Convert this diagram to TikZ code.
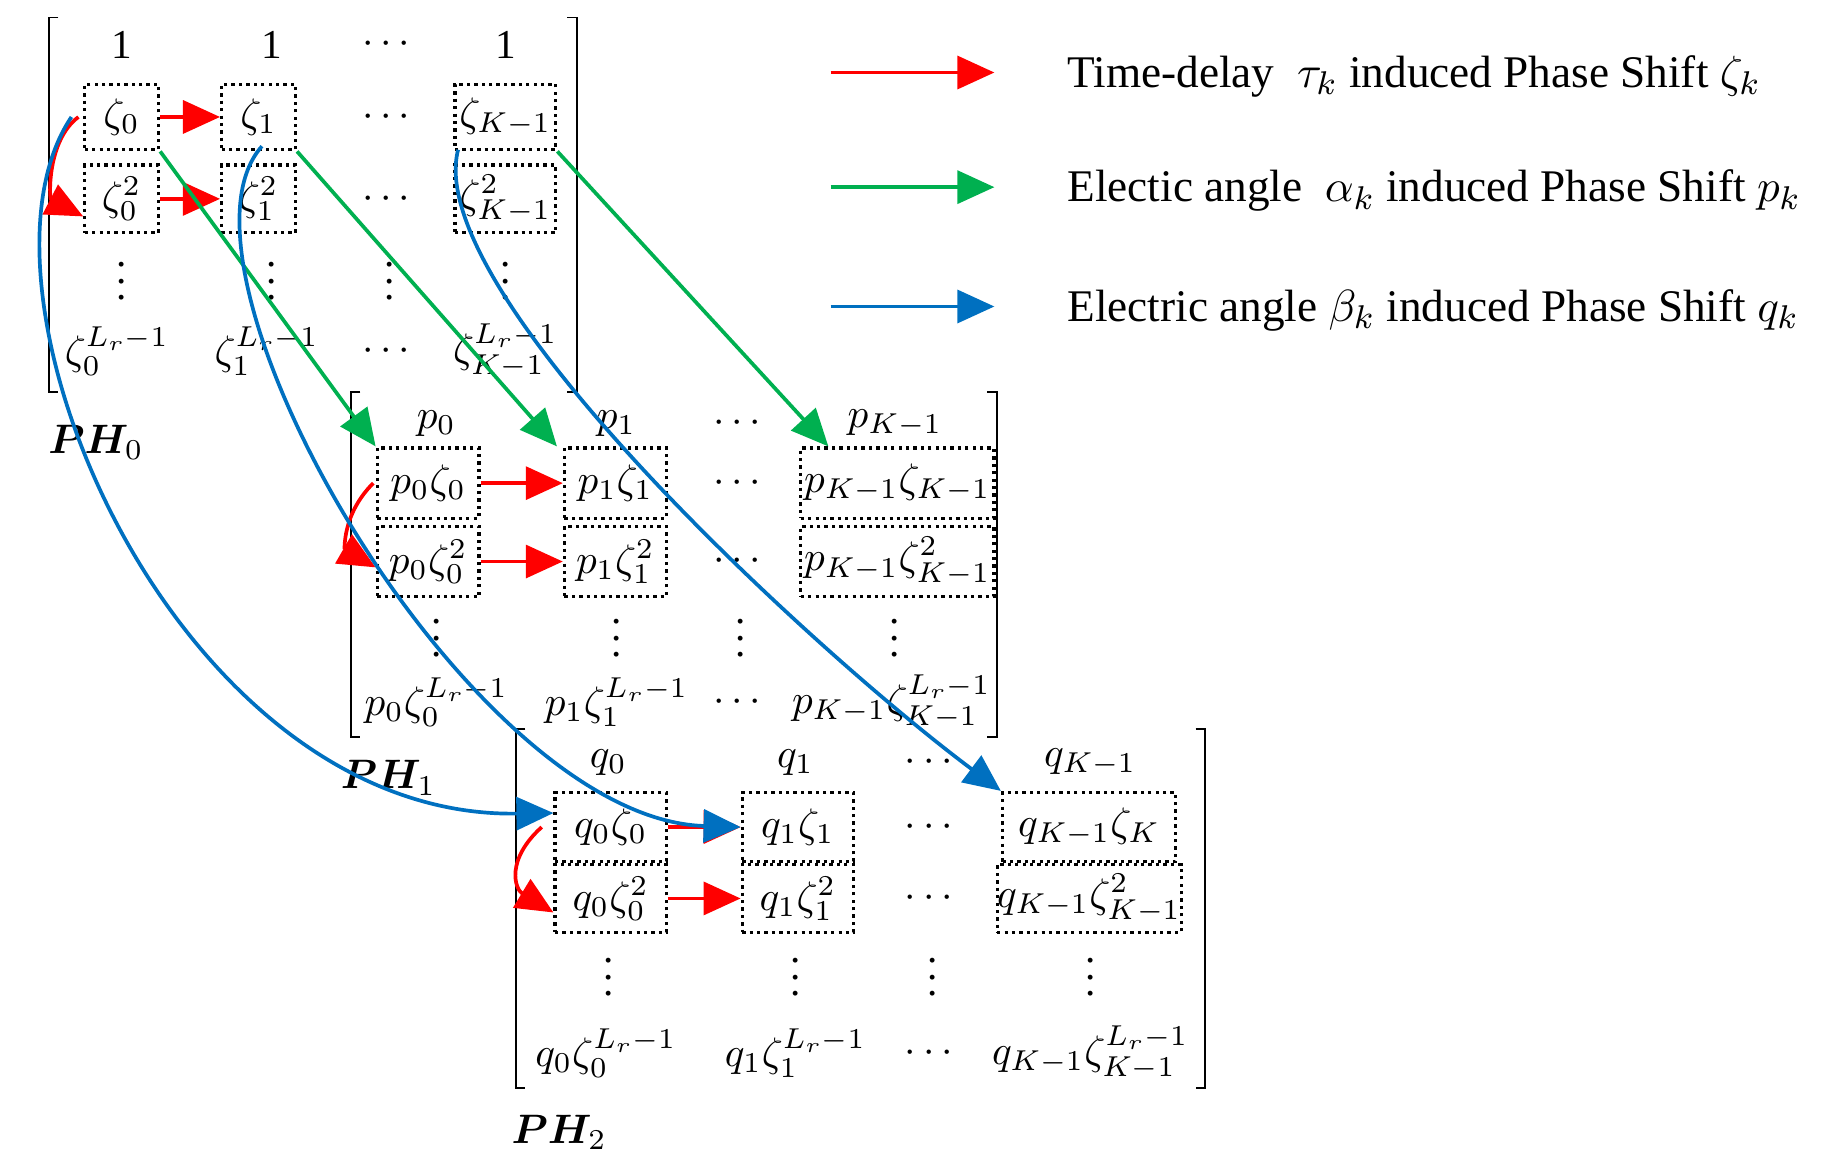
\documentclass[tikz,border=0pt]{standalone}
\usepackage{amsmath,bm}
\usepackage{fontspec}
\setmainfont{Liberation Serif}
\usetikzlibrary{arrows.meta}
\definecolor{cred}{RGB}{255,0,0}
\definecolor{cgreen}{RGB}{0,176,80}
\definecolor{cblue}{RGB}{0,112,192}
\begin{document}
\begin{tikzpicture}[x=0.01cm,y=-0.01cm,font=\fontsize{10}{12}\selectfont,
  box/.style={draw,densely dotted,thick,inner sep=0pt},
  arr/.style={line width=0.9pt,-{Triangle[length=9pt,width=8pt]}},
  rarr/.style={arr,cred},garr/.style={arr,cgreen},barr/.style={arr,cblue},
  brk/.style={thin}]
\useasboundingbox (0,0) rectangle (1560,998);
% PH0
\draw[brk] (50,15) -- (42,15) -- (42,335) -- (50,335);
\draw[brk] (485,15) -- (493,15) -- (493,335) -- (485,335);
\node at (104,38) {1}; \node at (232,38) {1}; \node at (333,38) {$\cdots$}; \node at (432,38) {1};
\node[box,minimum width=0.63cm,minimum height=0.56cm] (a0) at (104,100) {$\zeta_0$};
\node[box,minimum width=0.63cm,minimum height=0.56cm] (a1) at (221,100) {$\zeta_1$};
\node at (333,100) {$\cdots$};
\node[box,minimum width=0.86cm,minimum height=0.56cm] (aK) at (432,100) {$\zeta_{K-1}$};
\node[box,minimum width=0.63cm,minimum height=0.58cm] (b0) at (104,170) {$\zeta_0^2$};
\node[box,minimum width=0.63cm,minimum height=0.58cm] (b1) at (221,170) {$\zeta_1^2$};
\node at (333,170) {$\cdots$};
\node[box,minimum width=0.86cm,minimum height=0.58cm] (bK) at (432,170) {$\zeta_{K-1}^2$};
\node at (104,230) {$\vdots$}; \node at (232,230) {$\vdots$}; \node at (333,230) {$\vdots$}; \node at (432,230) {$\vdots$};
\node at (100,300) {$\zeta_0^{L_r-1}$}; \node at (228,300) {$\zeta_1^{L_r-1}$};
\node at (333,300) {$\cdots$}; \node at (432,300) {$\zeta_{K-1}^{L_r-1}$};
\node (ph0) at (82,378) {$\bm{PH}_0$};
% PH1
\draw[brk] (308,335) -- (300,335) -- (300,630) -- (308,630);
\draw[brk] (844,335) -- (852,335) -- (852,630) -- (844,630);
\node at (373,362) {$p_0$}; \node at (527,362) {$p_1$}; \node at (633,362) {$\cdots$}; \node at (765,362) {$p_{K-1}$};
\node[box,minimum width=0.87cm,minimum height=0.6cm] (c0) at (366,413) {$p_0\zeta_0$};
\node[box,minimum width=0.87cm,minimum height=0.6cm] (c1) at (526,413) {$p_1\zeta_1$};
\node at (633,413) {$\cdots$};
\node[box,minimum width=1.65cm,minimum height=0.6cm] (cK) at (767,413) {$p_{K-1}\zeta_{K-1}$};
\node[box,minimum width=0.87cm,minimum height=0.6cm] (d0) at (366,480) {$p_0\zeta_0^2$};
\node[box,minimum width=0.87cm,minimum height=0.6cm] (d1) at (526,480) {$p_1\zeta_1^2$};
\node at (633,480) {$\cdots$};
\node[box,minimum width=1.65cm,minimum height=0.6cm] (dK) at (767,480) {$p_{K-1}\zeta_{K-1}^2$};
\node at (373,535) {$\vdots$}; \node at (527,535) {$\vdots$}; \node at (633,535) {$\vdots$}; \node at (765,535) {$\vdots$};
\node at (373,600) {$p_0\zeta_0^{L_r-1}$}; \node at (527,600) {$p_1\zeta_1^{L_r-1}$};
\node at (633,600) {$\cdots$}; \node at (762,600) {$p_{K-1}\zeta_{K-1}^{L_r-1}$};
\node (ph1) at (332,665) {$\bm{PH}_1$};
% PH2
\draw[brk] (449,623) -- (441,623) -- (441,930) -- (449,930);
\draw[brk] (1022,623) -- (1030,623) -- (1030,930) -- (1022,930);
\node at (520,652) {$q_0$}; \node at (680,652) {$q_1$}; \node at (797,652) {$\cdots$}; \node at (932,652) {$q_{K-1}$};
\node[box,minimum width=0.95cm,minimum height=0.59cm] (e0) at (522,707) {$q_0\zeta_0$};
\node[box,minimum width=0.95cm,minimum height=0.59cm] (e1) at (682,707) {$q_1\zeta_1$};
\node at (797,707) {$\cdots$};
\node[box,minimum width=1.48cm,minimum height=0.59cm] (eK) at (931,707) {$q_{K-1}\zeta_K$};
\node[box,minimum width=0.95cm,minimum height=0.58cm] (f0) at (522,768) {$q_0\zeta_0^2$};
\node[box,minimum width=0.95cm,minimum height=0.58cm] (f1) at (682,768) {$q_1\zeta_1^2$};
\node at (797,768) {$\cdots$};
\node[box,minimum width=1.48cm,minimum height=0.58cm] (fK) at (931,768) {$q_{K-1}\zeta_{K-1}^2$};
\node at (520,825) {$\vdots$}; \node at (680,825) {$\vdots$}; \node at (797,825) {$\vdots$}; \node at (932,825) {$\vdots$};
\node at (518,900) {$q_0\zeta_0^{L_r-1}$}; \node at (680,900) {$q_1\zeta_1^{L_r-1}$};
\node at (797,900) {$\cdots$}; \node at (932,900) {$q_{K-1}\zeta_{K-1}^{L_r-1}$};
\node (ph2) at (478,968) {$\bm{PH}_2$};
% red arrows
\draw[rarr] (a0.east) -- (a1.west);
\draw[rarr] (b0.east) -- (b1.west);
\draw[rarr] (c0.east) -- (c1.west);
\draw[rarr] (d0.east) -- (d1.west);
\draw[rarr] (e0.east) -- (e1.west);
\draw[rarr] (f0.east) -- (f1.west);
\draw[rarr] ([xshift=-0.04cm]a0.west) .. controls (40,120) and (42,170) .. ([yshift=-0.15cm]b0.west);
\draw[rarr] ([xshift=-0.02cm]c0.west) .. controls (292,440) and (295,470) .. ([yshift=-0.05cm]d0.west);
\draw[rarr] ([xshift=-0.1cm]e0.west) .. controls (432,735) and (440,760) .. ([yshift=-0.12cm]f0.west);
% green arrows
\draw[garr] (a0.south east) -- (c0.north west);
\draw[garr] (a1.south east) -- ([xshift=-0.05cm]c1.north west);
\draw[garr] (aK.south east) -- ([xshift=0.25cm]cK.north west);
% blue arrows
\draw[barr] ([xshift=-0.1cm]a0.west) .. controls (-40,250) and (150,700) .. ([yshift=0.12cm]e0.west);
\draw[barr] ([xshift=-0.3cm,yshift=-0.25cm]a1.east) .. controls (130,230) and (400,700) .. (e1.west);
\draw[barr] ([xshift=0.04cm,yshift=-0.28cm]aK.west) .. controls (360,250) and (700,560) .. (eK.north west);
% legend
\coordinate (l1) at (710,62); \coordinate (l1e) at (850,62);
\coordinate (l2) at (710,160); \coordinate (l2e) at (850,160);
\coordinate (l3) at (710,262); \coordinate (l3e) at (850,262);
\draw[rarr] (l1) -- (l1e); \draw[garr] (l2) -- (l2e); \draw[barr] (l3) -- (l3e);
\node[anchor=west,font=\fontsize{11}{13}\selectfont] at (900,65) {Time-delay\ \ $\tau_k$ induced Phase Shift $\zeta_k$};
\node[anchor=west,font=\fontsize{11}{13}\selectfont] at (900,163) {Electic angle\ \ $\alpha_k$ induced Phase Shift $p_k$};
\node[anchor=west,font=\fontsize{11}{13}\selectfont] at (900,265) {Electric angle $\beta_k$ induced Phase Shift $q_k$};
\end{tikzpicture}
\end{document}
